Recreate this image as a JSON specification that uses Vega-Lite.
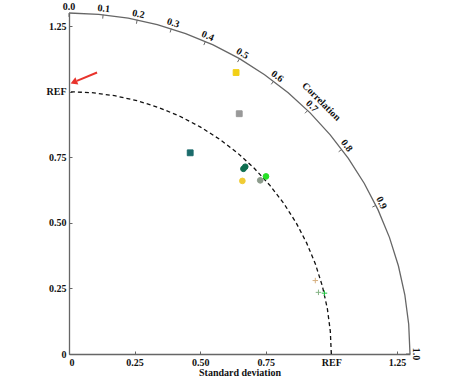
{
  "$schema": "https://vega.github.io/schema/vega-lite/v6.json",
  "width": 341,
  "height": 341,
  "autosize": {"type": "none"},
  "padding": {"left": 69, "top": 13, "right": 64, "bottom": 28},
  "background": "white",
  "config": {
    "view": {"stroke": null},
    "font": "Liberation Serif",
    "axis": {
      "grid": false,
      "domainColor": "#666666",
      "domainWidth": 1.3,
      "tickColor": "#666666",
      "tickSize": -3,
      "labelFont": "Liberation Serif",
      "labelFontWeight": "bold",
      "labelFontSize": 10,
      "labelColor": "#111111",
      "titleFont": "Liberation Serif",
      "titleFontWeight": "bold",
      "titleFontSize": 10,
      "titleColor": "#111111"
    }
  },
  "datasets": {
    "outer": [
      {"i": 0, "x": 1.3, "y": 0},
      {"i": 1, "x": 1.29505, "y": 0.11331},
      {"i": 2, "x": 1.28025, "y": 0.22575},
      {"i": 3, "x": 1.25571, "y": 0.33647},
      {"i": 4, "x": 1.2216, "y": 0.44463},
      {"i": 5, "x": 1.1782, "y": 0.54941},
      {"i": 6, "x": 1.12584, "y": 0.65},
      {"i": 7, "x": 1.0649, "y": 0.74565},
      {"i": 8, "x": 0.99585, "y": 0.83563},
      {"i": 9, "x": 0.91924, "y": 0.91924},
      {"i": 10, "x": 0.83563, "y": 0.99585},
      {"i": 11, "x": 0.74565, "y": 1.0649},
      {"i": 12, "x": 0.65, "y": 1.12584},
      {"i": 13, "x": 0.54941, "y": 1.1782},
      {"i": 14, "x": 0.44463, "y": 1.2216},
      {"i": 15, "x": 0.33647, "y": 1.25571},
      {"i": 16, "x": 0.22575, "y": 1.28025},
      {"i": 17, "x": 0.11331, "y": 1.29505},
      {"i": 18, "x": 0, "y": 1.3}
    ],
    "ref": [
      {"i": 0, "x": 1, "y": 0},
      {"i": 1, "x": 0.99619, "y": 0.08716},
      {"i": 2, "x": 0.98481, "y": 0.17365},
      {"i": 3, "x": 0.96593, "y": 0.25882},
      {"i": 4, "x": 0.93969, "y": 0.34202},
      {"i": 5, "x": 0.90631, "y": 0.42262},
      {"i": 6, "x": 0.86603, "y": 0.5},
      {"i": 7, "x": 0.81915, "y": 0.57358},
      {"i": 8, "x": 0.76604, "y": 0.64279},
      {"i": 9, "x": 0.70711, "y": 0.70711},
      {"i": 10, "x": 0.64279, "y": 0.76604},
      {"i": 11, "x": 0.57358, "y": 0.81915},
      {"i": 12, "x": 0.5, "y": 0.86603},
      {"i": 13, "x": 0.42262, "y": 0.90631},
      {"i": 14, "x": 0.34202, "y": 0.93969},
      {"i": 15, "x": 0.25882, "y": 0.96593},
      {"i": 16, "x": 0.17365, "y": 0.98481},
      {"i": 17, "x": 0.08716, "y": 0.99619},
      {"i": 18, "x": 0, "y": 1}
    ],
    "corr": [
      {"label": "0.0", "theta": 90, "x": 0, "y": 1.3, "x2": 0, "y2": 1.285},
      {"label": "0.1", "theta": 84.26, "x": 0.13, "y": 1.29349, "x2": 0.1285, "y2": 1.27856},
      {"label": "0.2", "theta": 78.46, "x": 0.26, "y": 1.27374, "x2": 0.257, "y2": 1.25904},
      {"label": "0.3", "theta": 72.54, "x": 0.39, "y": 1.24012, "x2": 0.3855, "y2": 1.22581},
      {"label": "0.4", "theta": 66.42, "x": 0.52, "y": 1.19148, "x2": 0.514, "y2": 1.17773},
      {"label": "0.5", "theta": 60, "x": 0.65, "y": 1.12584, "x2": 0.6425, "y2": 1.11285},
      {"label": "0.6", "theta": 53.13, "x": 0.78, "y": 1.04, "x2": 0.771, "y2": 1.028},
      {"label": "0.7", "theta": 45.57, "x": 0.91, "y": 0.92838, "x2": 0.8995, "y2": 0.91767},
      {"label": "0.8", "theta": 36.87, "x": 1.04, "y": 0.78, "x2": 1.028, "y2": 0.771},
      {"label": "0.9", "theta": 25.84, "x": 1.17, "y": 0.56666, "x2": 1.1565, "y2": 0.56012},
      {"label": "1.0", "theta": 0, "x": 1.3, "y": 0, "x2": 1.285, "y2": 0}
    ],
    "models": [
      {"id": "M1", "kind": "square", "x": 0.637, "y": 1.073},
      {"id": "M2", "kind": "square", "x": 0.649, "y": 0.916},
      {"id": "M3", "kind": "square", "x": 0.462, "y": 0.767},
      {"id": "M4", "kind": "circle", "x": 0.665, "y": 0.706},
      {"id": "M4", "kind": "circle", "x": 0.672, "y": 0.714},
      {"id": "M5", "kind": "circle", "x": 0.661, "y": 0.66},
      {"id": "M6", "kind": "circle", "x": 0.729, "y": 0.662},
      {"id": "M7", "kind": "circle", "x": 0.751, "y": 0.677},
      {"id": "M8", "kind": "plus", "x": 0.939, "y": 0.28},
      {"id": "M9", "kind": "plus", "x": 0.951, "y": 0.235},
      {"id": "M10", "kind": "plus", "x": 0.974, "y": 0.232}
    ],
    "arrow": [
      {"x": 0.107, "y": 1.073, "x2": 0.03, "y2": 1.041}
    ],
    "arrowhead": [
      {"x": 0.022, "y": 1.038}
    ]
  },
  "layer": [
    {
      "data": {"name": "outer"},
      "mark": {"type": "line", "color": "#666666", "strokeWidth": 1.3},
      "encoding": {
        "x": {
          "field": "x", "type": "quantitative",
          "scale": {"domain": [0, 1.3], "nice": false, "zero": false},
          "axis": {
            "values": [0, 0.25, 0.5, 0.75, 1, 1.25],
            "labelExpr": "datum.value == 1 ? 'REF' : datum.value == 0 ? '0' : format(datum.value, '.2f')",
            "title": "Standard deviation",
            "labelPadding": 6,
            "titlePadding": 0
          }
        },
        "y": {
          "field": "y", "type": "quantitative",
          "scale": {"domain": [0, 1.3], "nice": false, "zero": false},
          "axis": {
            "values": [0, 0.25, 0.5, 0.75, 1, 1.25],
            "labelExpr": "datum.value == 1 ? 'REF' : datum.value == 0 ? '0' : format(datum.value, '.2f')",
            "title": null,
            "labelPadding": 6
          }
        },
        "order": {"field": "i", "type": "quantitative"}
      }
    },
    {
      "data": {"name": "ref"},
      "mark": {"type": "line", "color": "#111111", "strokeWidth": 1.3, "strokeDash": [4, 3]},
      "encoding": {
        "x": {"field": "x", "type": "quantitative"},
        "y": {"field": "y", "type": "quantitative"},
        "order": {"field": "i", "type": "quantitative"}
      }
    },
    {
      "data": {"name": "corr"},
      "mark": {"type": "rule", "color": "#666666", "strokeWidth": 1},
      "encoding": {
        "x": {"field": "x", "type": "quantitative"},
        "y": {"field": "y", "type": "quantitative"},
        "x2": {"field": "x2"},
        "y2": {"field": "y2"}
      }
    },
    {
      "data": {"name": "corr"},
      "mark": {"type": "text", "align": "center", "baseline": "bottom", "dy": -1, "font": "Liberation Serif", "fontWeight": "bold", "fontSize": 10, "color": "#111111"},
      "encoding": {
        "x": {"field": "x", "type": "quantitative"},
        "y": {"field": "y", "type": "quantitative"},
        "text": {"field": "label"},
        "angle": {"field": "theta", "type": "quantitative", "scale": {"domain": [0, 90], "range": [90, 0]}, "legend": null}
      }
    },
    {
      "data": {"values": [{"t": "Correlation", "x": 0.962, "y": 0.962, "theta": 45}]},
      "mark": {"type": "text", "align": "center", "baseline": "middle", "font": "Liberation Serif", "fontWeight": "bold", "fontSize": 10, "color": "#111111"},
      "encoding": {
        "x": {"field": "x", "type": "quantitative"},
        "y": {"field": "y", "type": "quantitative"},
        "text": {"field": "t"},
        "angle": {"field": "theta", "type": "quantitative", "scale": {"domain": [0, 90], "range": [90, 0]}, "legend": null}
      }
    },
    {
      "data": {"name": "arrow"},
      "mark": {"type": "rule", "color": "#e8332c", "strokeWidth": 2},
      "encoding": {
        "x": {"field": "x", "type": "quantitative"},
        "y": {"field": "y", "type": "quantitative"},
        "x2": {"field": "x2"},
        "y2": {"field": "y2"}
      }
    },
    {
      "data": {"name": "arrowhead"},
      "mark": {"type": "point", "shape": "triangle", "filled": true, "color": "#e8332c", "size": 60, "angle": 247.6, "opacity": 1},
      "encoding": {
        "x": {"field": "x", "type": "quantitative"},
        "y": {"field": "y", "type": "quantitative"}
      }
    },
    {
      "data": {"name": "models"},
      "mark": {"type": "point", "opacity": 1, "strokeWidth": 1},
      "encoding": {
        "x": {"field": "x", "type": "quantitative"},
        "y": {"field": "y", "type": "quantitative"},
        "shape": {
          "field": "kind", "type": "nominal",
          "scale": {"domain": ["square", "circle", "plus"], "range": ["square", "circle", "M-1,0H1M0,-1V1"]},
          "legend": null
        },
        "size": {
          "field": "kind", "type": "nominal",
          "scale": {"domain": ["square", "circle", "plus"], "range": [34, 30, 20]},
          "legend": null
        },
        "fill": {
          "field": "id", "type": "nominal",
          "scale": {
            "domain": ["M1", "M2", "M3", "M4", "M5", "M6", "M7", "M8", "M9", "M10"],
            "range": ["#f2d016", "#999999", "#1b6b6b", "#0e6e50", "#f0cc35", "#8c9c8c", "#26e026", "transparent", "transparent", "transparent"]
          },
          "legend": null
        },
        "stroke": {
          "field": "id", "type": "nominal",
          "scale": {
            "domain": ["M1", "M2", "M3", "M4", "M5", "M6", "M7", "M8", "M9", "M10"],
            "range": ["#f2d016", "#999999", "#1b6b6b", "#0e6e50", "#f0cc35", "#8c9c8c", "#26e026", "#d6b07f", "#86b486", "#20c040"]
          },
          "legend": null
        }
      }
    }
  ]
}
